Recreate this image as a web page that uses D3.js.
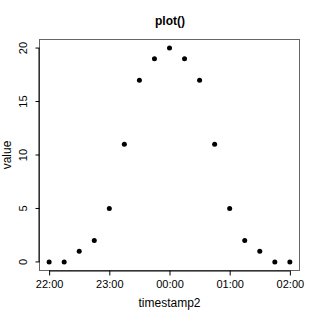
<!DOCTYPE html>
<html>
<meta charset="utf-8">
<style>
body {
  margin: 0;
  background: #fff;
}
text {
  font-family: "Liberation Sans", Arial, sans-serif;
  fill: #000;
}
.frame {
  fill: none;
  stroke: #666;
}
.axis path, .axis line {
  stroke: #000;
}
</style>
<body>
<svg width="320" height="320"></svg>
<script src="https://d3js.org/d3.v7.min.js"></script>
<script>

// timestamps every 15 minutes from 22:00 to 02:00
var times = ["22:00", "22:15", "22:30", "22:45", "23:00", "23:15", "23:30", "23:45",
             "00:00", "00:15", "00:30", "00:45", "01:00", "01:15", "01:30", "01:45", "02:00"];
var values = [0, 0, 1, 2, 5, 11, 17, 19, 20, 19, 17, 11, 5, 2, 1, 0, 0];
var xTickLabels = ["22:00", "23:00", "00:00", "01:00", "02:00"];
var yTicks = [0, 5, 10, 15, 20];

var svg = d3.select("svg");

var plotLeft = 39.5, plotRight = 299.5, plotTop = 39.5, plotBottom = 270.5;

// turn "HH:MM" into a date, rolling past midnight
function toDate(s) {
  var p = s.split(":"), h = +p[0], m = +p[1];
  var day = h < 12 ? 2 : 1;
  return new Date(Date.UTC(2020, 0, day, h, m));
}

var dates = times.map(toDate);
var tickDates = xTickLabels.map(toDate);

// R pads the range by 4% each side
var t0 = +dates[0], t1 = +dates[dates.length - 1], pad = (t1 - t0) * 0.04;
var x = d3.scaleTime()
    .domain([new Date(t0 - pad), new Date(t1 + pad)])
    .range([plotLeft, plotRight]);

var y = d3.scaleLinear()
    .domain([-0.8, 20.8])
    .range([plotBottom, plotTop]);

svg.append("rect")
    .attr("class", "frame")
    .attr("x", plotLeft).attr("y", plotTop)
    .attr("width", plotRight - plotLeft).attr("height", plotBottom - plotTop);

var xAxis = svg.append("g")
    .attr("class", "axis")
    .attr("transform", "translate(0," + plotBottom + ")")
    .call(d3.axisBottom(x)
      .tickValues(tickDates)
      .tickFormat(d3.utcFormat("%H:%M"))
      .tickSizeInner(5).tickSizeOuter(0));
xAxis.select(".domain").attr("d", "M" + x(tickDates[0]) + ",0.5H" + x(tickDates[tickDates.length - 1]));
xAxis.selectAll(".tick text")
    .attr("font-size", 11).attr("font-family", null)
    .attr("dy", null)
    .attr("y", 284 - plotBottom)
    .attr("dominant-baseline", "central");

var yAxis = svg.append("g")
    .attr("class", "axis")
    .call(d3.axisLeft(y).tickValues(yTicks).tickSizeInner(4).tickSizeOuter(0));
yAxis.attr("transform", "translate(" + plotLeft + ",0)");
yAxis.select(".domain").attr("d", "M-0.5," + y(0) + "V" + y(20));
yAxis.selectAll(".tick").attr("transform", null);
yAxis.selectAll(".tick line")
    .attr("y1", function(d) { return y(d); })
    .attr("y2", function(d) { return y(d); });
yAxis.selectAll(".tick text")
    .attr("font-size", 11).attr("font-family", null)
    .attr("x", null).attr("y", null).attr("dy", null)
    .attr("text-anchor", "middle")
    .attr("dominant-baseline", "central")
    .attr("transform", function(d) { return "translate(" + (23 - plotLeft) + "," + y(d) + ") rotate(-90)"; });

svg.append("g")
  .selectAll("circle")
  .data(values)
  .enter().append("circle")
    .attr("cx", function(d, i) { return x(dates[i]); })
    .attr("cy", function(d) { return y(d); })
    .attr("r", 2.5)
    .attr("fill", "#000");

svg.append("text")
    .attr("x", 170).attr("y", 21)
    .attr("text-anchor", "middle")
    .attr("dominant-baseline", "central")
    .attr("font-size", 12)
    .attr("font-weight", "bold")
    .text("plot()");

svg.append("text")
    .attr("x", (plotLeft + plotRight) / 2).attr("y", 303)
    .attr("text-anchor", "middle")
    .attr("dominant-baseline", "central")
    .attr("font-size", 12)
    .text("timestamp2");

svg.append("text")
    .attr("transform", "translate(6.5," + (plotTop + plotBottom) / 2 + ") rotate(-90)")
    .attr("text-anchor", "middle")
    .attr("dominant-baseline", "central")
    .attr("font-size", 12)
    .text("value");

</script>
</body>
</html>
